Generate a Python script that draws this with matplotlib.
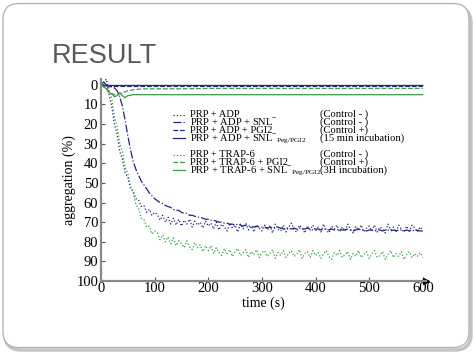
import matplotlib
matplotlib.use("Agg")
import matplotlib.pyplot as plt
from matplotlib.patches import FancyBboxPatch
from matplotlib.lines import Line2D
from matplotlib.transforms import IdentityTransform

plt.rcParams["font.family"] = ["Liberation Serif", "DejaVu Serif"]
plt.rcParams["mathtext.fontset"] = "custom"
plt.rcParams["mathtext.rm"] = "Liberation Serif"

# ---- data ----
t = list(range(0, 601, 5))

adp_ctrl = [0, -1, -3, 5, 11, 20, 25, 34, 38, 45, 47, 53, 54,
            58, 58.5, 62, 61.5, 65, 63.5, 66.5, 65,
            66, 69, 66.5, 70, 67.5, 71, 68, 71.5, 68.5, 72, 69, 71, 68.5, 72.5, 69.5, 71.5, 70, 73, 69.5, 72,
            70.5, 73.5, 70, 74, 71, 72.5, 74.5, 70.5, 73, 71.5, 75, 71, 73.5, 70.5, 74, 72, 75, 71.5, 73, 74.5,
            71.5, 74, 72, 75.5, 71, 73.5, 74.5, 71.5, 75, 72.5, 70.5, 74, 75, 71.5, 73, 75.5, 72, 74, 71.5, 74.5,
            72.5, 75, 71, 74, 75.5, 72, 73.5, 71.5, 75, 72.5, 74.5, 71, 73.5, 75.5, 72, 74, 71.5, 75, 73, 72,
            74.5, 71.5, 75, 72.5, 73.5, 75.5, 71, 74, 72.5, 75, 71.5, 73.5, 75, 72, 74.5, 71.5, 73, 75, 72.5, 74]

adp_snl = [0, 0, 0.5, 0.5, 1, 1.5, 3, 6, 11, 18, 26, 33, 39,
           43, 46, 49, 51, 53, 55, 56.5, 58,
           59, 60, 60.5, 61.5, 62, 62.5, 63.5, 64, 64, 65, 65.5, 65.5, 66.5, 66.5, 67, 67.5, 67.5, 68, 68.5, 68.5,
           69, 69, 69.5, 70, 70, 70.5, 70.5, 71, 71, 71.5, 71, 71.5, 72, 71.5, 72, 72, 72.5, 72, 72.5, 72.5,
           72.5, 73, 72.5, 73, 73, 72.5, 73, 73.5, 73, 73, 73.5, 73, 73.5, 73, 73.5, 73.5, 73, 73.5, 74, 73.5,
           73.5, 74, 73.5, 73.5, 74, 73.5, 74, 74, 73.5, 74, 74, 73.5, 74, 74.5, 74, 73.5, 74, 74, 74.5, 74,
           74, 74.5, 74, 74, 74.5, 74, 74, 74.5, 74, 74.5, 74, 74, 74.5, 74, 74.5, 74, 74.5, 74, 74.5, 74.5]

trap_ctrl = [0, 0.5, 1, 3, 7, 16, 21, 30, 34, 42, 45, 52, 55,
             61, 63, 68, 68.5, 72.5, 72, 76, 74.5,
             75.5, 79, 76.5, 80, 77.5, 81, 78, 82, 79.5, 81, 83, 79.5, 82.5, 84, 80.5, 83, 81.5, 85, 82, 84.5,
             82, 86, 83, 85.5, 87, 83.5, 86, 84, 87.5, 85, 83.5, 87, 85.5, 84, 88, 85, 86.5, 84, 88, 85.5,
             84.5, 87.5, 86, 84, 88.5, 85.5, 87, 84.5, 88, 86, 84.5, 87.5, 86.5, 84, 88.5, 86, 85, 88, 84.5, 87,
             85.5, 88.5, 86, 84.5, 87.5, 89, 85.5, 87, 84.5, 88, 86.5, 85, 89, 86, 87.5, 84.5, 88, 86.5, 85, 88.5,
             86, 84.5, 88, 87, 85, 89, 86.5, 84.5, 88, 86, 87.5, 85, 89, 86.5, 85, 88, 86, 87.5, 85.5, 88]

t_flat = [0, 5, 10, 15, 20, 25, 30, 35, 40, 45, 50, 60, 70, 80, 100, 150, 200, 300, 400, 500, 600]
adp_pgi2 = [0, 0.5, 1, 1, 0.8, 0.8, 0.8, 0.8, 0.8, 0.8, 0.8, 0.8, 0.8, 0.8, 0.8, 0.8, 0.8, 0.8, 0.8, 0.8, 0.8]
adp_snl_peg = [0, -1.5, 0, 0.3, 0.3, 0.3, 0.3, 0.3, 0.3, 0.3, 0.3, 0.3, 0.3, 0.3, 0.3, 0.3, 0.3, 0.3, 0.3, 0.3, 0.3]
trap_pgi2 = [0, 1, 2, 3.5, 4.5, 5, 5, 4.5, 4, 3.5, 3, 2.5, 2.2, 2, 2, 2, 1.8, 1.8, 1.8, 1.8, 1.8]
trap_snl_peg = [0, 1, 2, 4, 4.5, 6, 5.5, 4, 5.5, 6.5, 5.5, 5, 5, 5, 5, 5, 5, 5, 5, 5, 5]

snl = "$\\mathrm{SNL}^{-}$"
peg = "$_{\\mathrm{Peg/PGI2}}$"
labels = ["PRP + ADP",
          "PRP + ADP + " + snl,
          "PRP + ADP + PGI2",
          "PRP + ADP + " + snl + peg,
          "PRP + TRAP-6",
          "PRP + TRAP-6 + PGI2",
          "PRP + TRAP-6 + " + snl + peg]
notes = ["(Control - )", "(Control - )", "(Control +)", "(15 min incubation)",
         "(Control - )", "(Control +)", "(3H incubation)"]

navy = "#23267a"
green = "#3a9a4a"

series = [
    (t, adp_ctrl, navy, ":"),
    (t, adp_snl, navy, "-."),
    (t_flat, adp_pgi2, navy, "--"),
    (t_flat, adp_snl_peg, navy, "-"),
    (t, trap_ctrl, green, ":"),
    (t_flat, trap_pgi2, green, "--"),
    (t_flat, trap_snl_peg, green, "-"),
]

W, H = 474, 355
fig = plt.figure(figsize=(W / 100, H / 100), dpi=100)


def fx(x):
    return x / W


def fy(y):
    return 1 - y / H


# slide frame with a soft shadow (kept behind the axes)
shadow = FancyBboxPatch((5, 5), 466, 343, boxstyle="round,pad=0,rounding_size=16",
                        transform=IdentityTransform(), facecolor="none",
                        edgecolor="#c4c4c4", linewidth=2.5, zorder=-10)
frame = FancyBboxPatch((3, 7.5), 466, 344, boxstyle="round,pad=0,rounding_size=16",
                       transform=IdentityTransform(), facecolor="white",
                       edgecolor="#b5b5b5", linewidth=1, zorder=-9)
fig.add_artist(shadow)
fig.add_artist(frame)

fig.text(fx(52), fy(63), "RESULT", family=["Liberation Sans", "DejaVu Sans"],
         fontsize=19.5, color="#595959", va="baseline", ha="left")

ax = fig.add_axes([fx(101), fy(281), fx(426) - fx(101), fy(79) - fy(281)])
ax.set_facecolor("none")

for xs, ys, col, ls in series:
    ax.plot(xs, ys, color=col, linestyle=ls, linewidth=0.9)

ax.set_xlim(0, 606)
ax.set_ylim(100, -3)
ax.set_xticks(range(0, 601, 100))
ax.set_yticks(range(0, 101, 10))

for side in ["top", "right"]:
    ax.spines[side].set_visible(False)
for side in ["left", "bottom"]:
    ax.spines[side].set_color("#8a8a8a")
    ax.spines[side].set_linewidth(1.6)
ax.plot(1, 0, marker=">", color="black", markersize=4, transform=ax.transAxes, clip_on=False)

ax.tick_params(direction="in", length=3, width=0.8, color="#555555",
               labelsize=10.5, pad=2)
ax.tick_params(axis="x", pad=0.5)
ax.set_xlabel("time (s)", fontsize=10, labelpad=1.5)
ax.set_ylabel("aggregation (%)", fontsize=10, labelpad=0)

# legend drawn by hand: handle, label, note
rows_y = [114.5, 122.4, 130.3, 138.2, 154.5, 162.4, 170.3]
for (xs, ys, col, ls), lab, note, yy in zip(series, labels, notes, rows_y):
    fig.add_artist(Line2D([fx(173), fx(185)], [fy(yy), fy(yy)], color=col,
                          linestyle=ls, linewidth=0.9))
    fig.text(fx(190), fy(yy + 2.6), lab, fontsize=7.6, va="baseline", ha="left")
    fig.text(fx(320), fy(yy + 2.6), note, fontsize=7.6, va="baseline", ha="left")

fig.savefig("out.png", dpi=100)
